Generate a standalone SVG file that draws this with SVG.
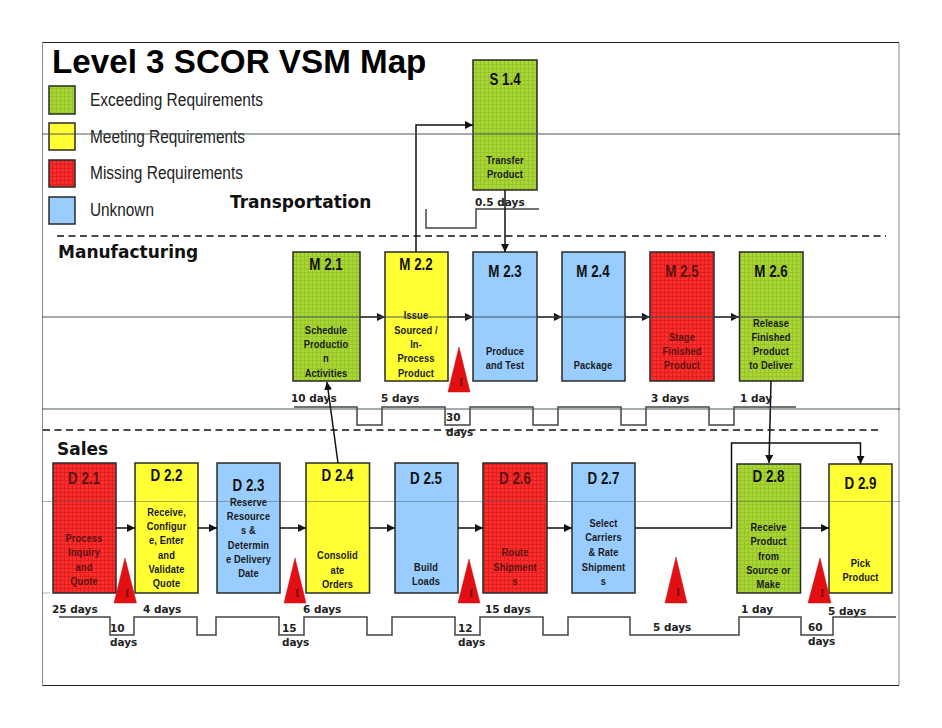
<svg xmlns="http://www.w3.org/2000/svg" width="942" height="728" viewBox="0 0 942 728">
<style>
text{font-family:"Liberation Sans",Arial,sans-serif;fill:#111}
.title{font-size:33.2px;font-weight:700;fill:#000}
.leg{font-size:18px;fill:#222}
.sec{font-family:"DejaVu Sans",Verdana,sans-serif;font-size:17px;font-weight:700}
.day{font-family:"DejaVu Sans",Verdana,sans-serif;font-size:10.5px;font-weight:700;fill:#222}
.h{font-size:16.5px;font-weight:700;text-anchor:middle}
.b{font-size:11.5px;font-weight:700;text-anchor:middle;letter-spacing:.15px;fill:#1a1a1a}
.h.rt,.b.rt{fill:#5e1212}
.i{font-family:"Liberation Serif",serif;font-size:12px;font-weight:700;text-anchor:middle;fill:#7a1010}
.box{stroke:#2a2a2a;stroke-width:1.5}
.gn{fill:url(#pg)}.rd{fill:url(#pr)}.yl{fill:#ffff33}.bl{fill:#99ccff}
.tri{fill:#e30f12;stroke:#c01010;stroke-width:.5}
.c{fill:none;stroke:#111;stroke-width:1.5}
.a{marker-end:url(#ah)}
.tl{fill:none;stroke:#444;stroke-width:1.5}
.dash{fill:none;stroke:#111;stroke-width:1.5;stroke-dasharray:7 4.5}
.gl{stroke:#46565c;stroke-width:1}
</style>
<defs>
<pattern id="pg" width="4" height="4" patternUnits="userSpaceOnUse"><rect width="4" height="4" fill="#a9d635"/><path d="M0 .5H4M.5 0V4" stroke="#96c42b" stroke-width="1"/></pattern>
<pattern id="pr" width="4" height="4" patternUnits="userSpaceOnUse"><rect width="4" height="4" fill="#ff2c2c"/><path d="M0 .5H4M.5 0V4" stroke="#dc2020" stroke-width="1"/></pattern>
<marker id="ah" markerUnits="userSpaceOnUse" markerWidth="9" markerHeight="8" refX="8" refY="4" orient="auto"><path d="M0 0L8 4L0 8Z" fill="#111"/></marker>
</defs>
<rect width="942" height="728" fill="#fff"/>
<path d="M42.5 42.5V685.5M899 42.5V685.5" fill="none" stroke="#888" stroke-width="1"/>
<path d="M42.5 42.5H899M42.5 685.5H899" fill="none" stroke="#222" stroke-width="1"/>

<g id="legend">
<text class="title" x="52" y="73">Level 3 SCOR VSM Map</text>
<rect class="box gn" x="49" y="86" width="26" height="28"/><text class="leg" x="90" y="106" textLength="173" lengthAdjust="spacingAndGlyphs">Exceeding Requirements</text>
<rect class="box yl" x="49" y="123" width="26" height="27"/><text class="leg" x="90" y="143" textLength="155" lengthAdjust="spacingAndGlyphs">Meeting Requirements</text>
<rect class="box rd" x="49" y="160" width="26" height="27"/><text class="leg" x="90" y="179" textLength="153" lengthAdjust="spacingAndGlyphs">Missing Requirements</text>
<rect class="box bl" x="49" y="197" width="26" height="27"/><text class="leg" x="90" y="216" textLength="64" lengthAdjust="spacingAndGlyphs">Unknown</text>
<text class="sec" x="230" y="208">Transportation</text>
<text class="sec" x="58" y="258">Manufacturing</text>
<text class="sec" x="57" y="455">Sales</text>
</g>

<g id="dividers">
<path class="dash" d="M57 236H886"/>
<path class="dash" d="M43 430H878"/>
</g>

<g id="timelines">
<path class="tl" d="M426 209V228H476V209H539"/>
<path class="tl" d="M294 407H357V425H382V407H445V425H470V407H533V425H558V407H621V425H646V407H709V425H734V407H796"/>
<path class="tl" d="M59 617H110V635H134V617H197V635H216V617H279V635H304V617H367V635H392V617H455V635H480V617H543V635H568V617H630V635H739V617H801V635H833V617H896"/>
</g>

<g id="S1.4"><rect class="box gn" x="473" y="60" width="64" height="130"/><g transform="translate(505,0) scale(.81,1)"><text class="h" y="85">S 1.4</text><text class="b" y="164">Transfer</text><text class="b" y="178">Product</text></g></g>

<g id="M2.1"><rect class="box gn" x="293" y="252" width="67" height="129"/><g transform="translate(326,0) scale(.81,1)"><text class="h" y="270">M 2.1</text><text class="b" y="334">Schedule</text><text class="b" y="348">Productio</text><text class="b" y="362">n</text><text class="b" y="377">Activities</text></g></g>
<g id="M2.2"><rect class="box yl" x="385" y="252" width="63" height="129"/><g transform="translate(416,0) scale(.81,1)"><text class="h" y="270">M 2.2</text><text class="b" y="319">Issue</text><text class="b" y="334">Sourced /</text><text class="b" y="348">In-</text><text class="b" y="362">Process</text><text class="b" y="377">Product</text></g></g>
<g id="M2.3"><rect class="box bl" x="473" y="252" width="64" height="129"/><g transform="translate(505,0) scale(.81,1)"><text class="h" y="277">M 2.3</text><text class="b" y="355">Produce</text><text class="b" y="369">and Test</text></g></g>
<g id="M2.4"><rect class="box bl" x="562" y="252" width="63" height="129"/><g transform="translate(593,0) scale(.81,1)"><text class="h" y="277">M 2.4</text><text class="b" y="369">Package</text></g></g>
<g id="M2.5"><rect class="box rd" x="650" y="252" width="64" height="129"/><g transform="translate(682,0) scale(.81,1)"><text class="h rt" y="277">M 2.5</text><text class="b rt" y="341">Stage</text><text class="b rt" y="355">Finished</text><text class="b rt" y="369">Product</text></g></g>
<g id="M2.6"><rect class="box gn" x="739.5" y="252" width="63.5" height="129"/><g transform="translate(771,0) scale(.81,1)"><text class="h" y="277">M 2.6</text><text class="b" y="327">Release</text><text class="b" y="341">Finished</text><text class="b" y="355">Product</text><text class="b" y="369">to Deliver</text></g></g>

<g id="D2.1"><rect class="box rd" x="53" y="463" width="63" height="130"/><g transform="translate(84,0) scale(.81,1)"><text class="h rt" y="484">D 2.1</text><text class="b rt" y="542">Process</text><text class="b rt" y="556">Inquiry</text><text class="b rt" y="571">and</text><text class="b rt" y="585">Quote</text></g></g>
<g id="D2.2"><rect class="box yl" x="135" y="463" width="63" height="130"/><g transform="translate(166.500,0) scale(.81,1)"><text class="h" y="481">D 2.2</text><text class="b" y="516">Receive,</text><text class="b" y="530">Configur</text><text class="b" y="544">e, Enter</text><text class="b" y="559">and</text><text class="b" y="573">Validate</text><text class="b" y="587">Quote</text></g></g>
<g id="D2.3"><rect class="box bl" x="217" y="463" width="63" height="130"/><g transform="translate(248.500,0) scale(.81,1)"><text class="h" y="491">D 2.3</text><text class="b" y="506">Reserve</text><text class="b" y="520">Resource</text><text class="b" y="534">s &amp;</text><text class="b" y="549">Determin</text><text class="b" y="563">e Delivery</text><text class="b" y="577">Date</text></g></g>
<g id="D2.4"><rect class="box yl" x="306" y="463" width="63.500" height="130"/><g transform="translate(337.500,0) scale(.81,1)"><text class="h" y="481">D 2.4</text><text class="b" y="559">Consolid</text><text class="b" y="574">ate</text><text class="b" y="588">Orders</text></g></g>
<g id="D2.5"><rect class="box bl" x="395" y="463" width="63" height="130"/><g transform="translate(426,0) scale(.81,1)"><text class="h" y="484">D 2.5</text><text class="b" y="571">Build</text><text class="b" y="585">Loads</text></g></g>
<g id="D2.6"><rect class="box rd" x="483" y="463" width="64" height="130"/><g transform="translate(515,0) scale(.81,1)"><text class="h rt" y="484">D 2.6</text><text class="b rt" y="556">Route</text><text class="b rt" y="571">Shipment</text><text class="b rt" y="585">s</text></g></g>
<g id="D2.7"><rect class="box bl" x="572" y="463" width="63" height="130"/><g transform="translate(603.500,0) scale(.81,1)"><text class="h" y="484">D 2.7</text><text class="b" y="527">Select</text><text class="b" y="541">Carriers</text><text class="b" y="556">&amp; Rate</text><text class="b" y="571">Shipment</text><text class="b" y="585">s</text></g></g>
<g id="D2.8"><rect class="box gn" x="737" y="464" width="63.500" height="129"/><g transform="translate(768.500,0) scale(.81,1)"><text class="h" y="482">D 2.8</text><text class="b" y="531">Receive</text><text class="b" y="545">Product</text><text class="b" y="560">from</text><text class="b" y="574">Source or</text><text class="b" y="588">Make</text></g></g>
<g id="D2.9"><rect class="box yl" x="829" y="464" width="63" height="129"/><g transform="translate(860.500,0) scale(.81,1)"><text class="h" y="489">D 2.9</text><text class="b" y="567">Pick</text><text class="b" y="581">Product</text></g></g>

<g id="connectors">
<path class="c a" d="M416 252V125H473"/>
<path class="c a" d="M505 190V252"/>
<path class="c a" d="M360 317H385"/><path class="c a" d="M448 317H473"/><path class="c a" d="M537 317H562"/><path class="c a" d="M625 317H650"/><path class="c a" d="M714 317H739"/>
<path class="c a" d="M338 463L327 382"/>
<path class="c a" d="M771 381L769 463"/>
<path class="c a" d="M116 528H135"/><path class="c a" d="M198 528H217"/><path class="c a" d="M280 528H306"/><path class="c a" d="M369 528H395"/><path class="c a" d="M458 528H483"/><path class="c a" d="M547 528H572"/>
<path class="c a" d="M800 528H829"/>
<path class="c a" d="M635 528H731.500V443H860.500V464"/>
</g>

<g id="inventory">
<g><path class="tri" d="M459 347L470 392H448Z"/><text class="i" x="461" y="386">I</text></g>
<g><path class="tri" d="M125 558L136.500 603H114Z"/><text class="i" x="127" y="597">I</text></g>
<g><path class="tri" d="M295 558L306 603H284Z"/><text class="i" x="297" y="597">I</text></g>
<g><path class="tri" d="M469 559L480 603H458Z"/><text class="i" x="471" y="597">I</text></g>
<g><path class="tri" d="M676 557L687 603H665Z"/><text class="i" x="678" y="596">I</text></g>
<g><path class="tri" d="M820 558L831 603H808Z"/><text class="i" x="822" y="597">I</text></g>
</g>

<g id="durations">
<text class="day" x="475" y="206">0.5 days</text>
<text class="day" x="291" y="402">10 days</text><text class="day" x="381" y="402">5 days</text><text class="day" x="446" y="421">30</text><text class="day" x="446" y="436">days</text><text class="day" x="651" y="402">3 days</text><text class="day" x="740" y="402">1 day</text>
<text class="day" x="52" y="613">25 days</text><text class="day" x="110" y="632">10</text><text class="day" x="110" y="646">days</text><text class="day" x="143" y="613">4 days</text><text class="day" x="282" y="632">15</text><text class="day" x="282" y="646">days</text><text class="day" x="303" y="613">6 days</text><text class="day" x="458" y="632">12</text><text class="day" x="458" y="646">days</text><text class="day" x="485" y="613">15 days</text><text class="day" x="653" y="631">5 days</text><text class="day" x="741" y="613">1 day</text><text class="day" x="808" y="631">60</text><text class="day" x="808" y="645">days</text><text class="day" x="828" y="615">5 days</text>
</g>

<g id="gridlines">
<path class="gl" d="M42 134H900M42 317H900M42 409H900"/>
<path class="gl" d="M42 501.500H900M42 593H50" stroke-opacity=".45"/>
</g>
</svg>
